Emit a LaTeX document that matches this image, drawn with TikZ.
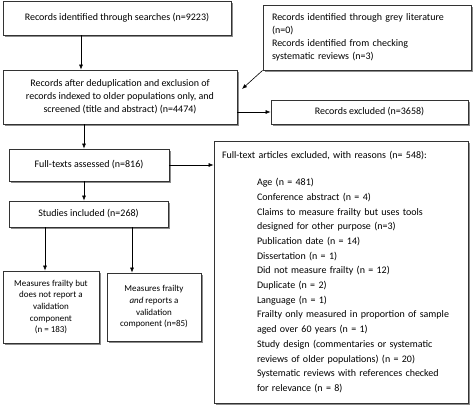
\documentclass[tikz,border=0pt]{standalone}
\usepackage{fontspec}
\setmainfont{Carlito}
\usetikzlibrary{arrows.meta,shadows}
\begin{document}
\begin{tikzpicture}[x=1pt,y=-1pt,
  box/.style={draw=black!80, line width=0.8pt, fill=white, inner sep=0pt,
    drop shadow={shadow xshift=2pt, shadow yshift=-2pt, fill=black!45, opacity=1},
    font={\fontsize{10}{13}\selectfont}},
  smallbox/.style={box, font={\fontsize{9}{11.7}\selectfont}, align=center},
  arr/.style={-{Latex[length=5pt,width=4pt]}, line width=0.6pt, black}]
\useasboundingbox (0,0) rectangle (474,409);

\node[box, minimum width=228, minimum height=34] (srch) at (117,18) {Records identified through searches (n=9223)};
\node[box, minimum width=234, minimum height=54, align=center] (dedup) at (120,97)
  {Records after deduplication and exclusion of\\records indexed to older populations only, and\\screened (title and abstract) (n=4474)};
\node[box, minimum width=208, minimum height=65, align=left, text width=190, inner xsep=9pt] (grey) at (367,37.5)
  {Records identified through grey literature\\(n=0)\\Records identified from checking\\systematic reviews (n=3)};
\node[box, minimum width=197, minimum height=24] (recex) at (369.5,112) {Records excluded (n=3658)};
\node[box, minimum width=160, minimum height=32] (ft) at (89,165) {Full-texts assessed (n=816)};
\node[box, minimum width=254, minimum height=262, align=left, text width=238, inner xsep=8pt,
  font={\fontsize{10}{14.7}\selectfont}] (ftex) at (341,272)
  {Full-text articles excluded, with reasons (n= 548):\\[12.5pt]
  \hspace*{35pt}Age (n = 481)\\
  \hspace*{35pt}Conference abstract (n = 4)\\
  \hspace*{35pt}Claims to measure frailty but uses tools\\
  \hspace*{35pt}designed for other purpose (n=3)\\
  \hspace*{35pt}Publication date (n = 14)\\
  \hspace*{35pt}Dissertation (n = 1)\\
  \hspace*{35pt}Did not measure frailty (n = 12)\\
  \hspace*{35pt}Duplicate (n = 2)\\
  \hspace*{35pt}Language (n = 1)\\
  \hspace*{35pt}Frailty only measured in proportion of sample\\
  \hspace*{35pt}aged over 60 years (n = 1)\\
  \hspace*{35pt}Study design (commentaries or systematic\\
  \hspace*{35pt}reviews of older populations) (n = 20)\\
  \hspace*{35pt}Systematic reviews with references checked\\
  \hspace*{35pt}for relevance (n = 8)};
\node[box, minimum width=159, minimum height=26] (incl) at (88.5,214) {Studies included (n=268)};
\node[smallbox, minimum width=96, minimum height=72] (noval) at (51,307)
  {Measures frailty but\\does not report a\\validation\\component\\(n = 183)};
\node[smallbox, minimum width=94, minimum height=68] (val) at (154,307)
  {Measures frailty\\\textit{and} reports a\\validation\\component (n=85)};

\coordinate (greyend) at (242,89);

\draw[arr] (srch.south -| 81,0) -- (dedup.north -| 81,0);
\draw[arr] (grey.south west) -- (greyend);
\draw[arr] (dedup.east |- recex.west) -- (recex.west);
\draw[arr] (dedup.south -| 84,0) -- (ft.north -| 84,0);
\draw[arr] (ft.east) -- (ftex.west |- ft.east);
\draw[arr] (ft.south -| 84,0) -- (incl.north -| 84,0);
\draw[arr] (incl.south -| 45,0) -- (noval.north -| 45,0);
\draw[arr] (incl.south -| 132,0) -- (val.north -| 132,0);
\end{tikzpicture}
\end{document}
